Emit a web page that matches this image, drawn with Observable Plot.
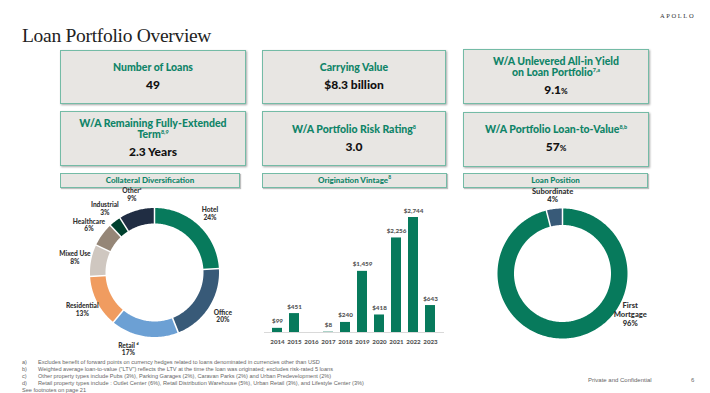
<!DOCTYPE html>
<html><head><meta charset="utf-8">
<script src="https://cdn.jsdelivr.net/npm/d3@7"></script>
<script src="https://cdn.jsdelivr.net/npm/@observablehq/plot@0.6"></script>
<style>
body{margin:0;width:710px;height:393px;position:relative;background:#fff;overflow:hidden;font-family:Lato,"Open Sans",sans-serif;}
.abs{position:absolute;}
.kpi{position:absolute;background:#e8e6e3;border:1.5px solid #74bba6;box-sizing:border-box;box-shadow:1px 1px 2px rgba(0,0,0,.35);display:flex;flex-direction:column;justify-content:center;align-items:center;text-align:center;}
.kt{color:#0f8468;font-weight:900;font-size:10.5px;line-height:11px;}
.kt sup{font-size:5.5px;vertical-align:super;line-height:0;}
.kv{color:#111;font-weight:900;font-size:12px;line-height:14px;margin-top:5px;}
.kv small{font-size:8px;}
.sec{position:absolute;top:173px;height:15px;background:#e8e6e3;border:1px solid #74bba6;box-sizing:border-box;box-shadow:1px 1px 1px rgba(0,0,0,.25);color:#0f8468;font-weight:900;font-size:8px;line-height:13px;text-align:center;}
.sec sup{font-size:5px;vertical-align:super;line-height:0;}
.fn{position:absolute;left:22px;font-family:"Liberation Sans",sans-serif;font-size:5.6px;color:#666;line-height:7px;white-space:nowrap;}
.fn span{display:inline-block;width:16px;}
svg.plot{background:transparent;}
</style></head>
<body>
<div class="abs" style="left:660px;top:12px;font-family:'Liberation Serif',serif;font-size:6.5px;letter-spacing:1.6px;color:#333;">APOLLO</div>
<div class="abs" style="left:22px;top:25px;font-family:'Liberation Serif',serif;font-size:19.5px;color:#222;letter-spacing:-0.3px;">Loan Portfolio Overview</div>

<div class="kpi" style="left:60px;top:50px;width:186px;height:54px;"><div class="kt">Number of Loans</div><div class="kv">49</div></div>
<div class="kpi" style="left:262px;top:50px;width:184px;height:54px;"><div class="kt">Carrying Value</div><div class="kv">$8.3 billion</div></div>
<div class="kpi" style="left:463px;top:49px;width:186px;height:55px;"><div class="kt">W/A Unlevered All-in Yield<br>on Loan Portfolio<sup>7,a</sup></div><div class="kv">9.1<small>%</small></div></div>
<div class="kpi" style="left:60px;top:111px;width:186px;height:55px;"><div class="kt">W/A Remaining Fully-Extended<br>Term<sup>8,9</sup></div><div class="kv">2.3 Years</div></div>
<div class="kpi" style="left:262px;top:111px;width:184px;height:55px;"><div class="kt">W/A Portfolio Risk Rating<sup>8</sup></div><div class="kv">3.0</div></div>
<div class="kpi" style="left:463px;top:112px;width:186px;height:55px;"><div class="kt">W/A Portfolio Loan-to-Value<sup>8,b</sup></div><div class="kv">57<small>%</small></div></div>

<div class="sec" style="left:60px;width:180px;">Collateral Diversification</div>
<div class="sec" style="left:262px;width:185px;">Origination Vintage<sup>8</sup></div>
<div class="sec" style="left:463px;width:185px;">Loan Position</div>

<div id="donut1" class="abs" style="left:53.5px;top:177px;"></div>
<div id="bars" class="abs" style="left:258px;top:195px;"></div>
<div id="donut2" class="abs" style="left:462px;top:178px;"></div>

<div class="fn" style="top:359px;"><span>a)</span>Excludes benefit of forward points on currency hedges related to loans denominated in currencies other than USD</div>
<div class="fn" style="top:366px;"><span>b)</span>Weighted average loan-to-value ("LTV") reflects the LTV at the time the loan was originated; excludes risk-rated 5 loans</div>
<div class="fn" style="top:373px;"><span>c)</span>Other property types include Pubs (3%), Parking Garages (2%), Caravan Parks (2%) and Urban Predevelopment (2%)</div>
<div class="fn" style="top:380px;"><span>d)</span>Retail property types include : Outlet Center (6%), Retail Distribution Warehouse (5%), Urban Retail (3%), and Lifestyle Center (3%)</div>
<div class="fn" style="top:387px;">See footnotes on page 21</div>
<div class="abs" style="left:588px;top:377px;font-family:'Liberation Sans',sans-serif;font-size:6px;color:#666;">Private and Confidential</div>
<div class="abs" style="left:691px;top:377px;font-family:'Liberation Sans',sans-serif;font-size:6px;color:#666;">6</div>

<script>
// ---- data ----
const collateralCategories = ["Hotel","Office","Retail","Residential","Mixed Use","Healthcare","Industrial","Other"];
const collateralLabels = ["Hotel","Office","Retail ᵈ","Residential","Mixed Use","Healthcare","Industrial","Otherᶜ"];
const collateralShares = [24,20,17,13,8,6,3,9];
const collateralColors = ["#077a5c","#385a78","#6ca0d4","#f09c60","#cfc7c0","#958677","#00402e","#202d43"];

const vintageYears = ["2014","2015","2016","2017","2018","2019","2020","2021","2022","2023"];
const vintageValues = [99,451,null,8,240,1459,418,2256,2744,643];

const positionCategories = ["First Mortgage","Subordinate"];
const positionLabels = ["First\nMortgage","Subordinate"];
const positionShares = [96,4];
const positionColors = ["#077a5c","#385a78"];

const FONT = "Lato, 'Open Sans', sans-serif";

// ---- donut helper ----
function donut({cats, labels, shares, colors, rIn, rOut, width, height, fontSize, labelR, labelFrac = {}}) {
  const total = d3.sum(shares);
  let acc = 0;
  const slices = cats.map((c, i) => {
    const a0 = acc / total * 2 * Math.PI; acc += shares[i];
    const a1 = acc / total * 2 * Math.PI;
    return {cat: c, label: labels[i], share: shares[i], a0, a1};
  });
  const rMid = (rIn + rOut) / 2;
  const pts = slices.flatMap(s => {
    const n = Math.max(2, Math.ceil((s.a1 - s.a0) / (Math.PI / 180)));
    return d3.range(n + 1).map(i => {
      const a = s.a0 + (s.a1 - s.a0) * i / n;
      return {cat: s.cat, x: rMid * Math.sin(a), y: -rMid * Math.cos(a)};
    });
  });
  const seps = slices.map(s => ({
    x1: (rIn - 1) * Math.sin(s.a0), y1: -(rIn - 1) * Math.cos(s.a0),
    x2: (rOut + 1) * Math.sin(s.a0), y2: -(rOut + 1) * Math.cos(s.a0)
  }));
  const labs = slices.map(s => {
    const f = labelFrac[s.cat] ?? 0.5;
    const a = s.a0 + (s.a1 - s.a0) * f;
    return {text: `${s.label}\n${s.share}%`, x: labelR * Math.sin(a), y: -labelR * Math.cos(a)};
  });
  return Plot.plot({
    width, height, margin: 0,
    style: {fontFamily: FONT, background: "transparent"},
    x: {domain: [-width / 2, width / 2], range: [0, width], axis: null},
    y: {domain: [-height / 2, height / 2], range: [0, height], axis: null},
    color: {domain: cats, range: colors},
    marks: [
      Plot.line(pts, {x: "x", y: "y", z: "cat", stroke: "cat", strokeWidth: rOut - rIn, strokeLinecap: "butt", strokeLinejoin: "round"}),
      Plot.link(seps, {x1: "x1", y1: "y1", x2: "x2", y2: "y2", stroke: "white", strokeWidth: 1.5}),
      Plot.text(labs, {x: "x", y: "y", text: "text", fontSize, fontWeight: 900, fill: "#333", lineHeight: 1.15})
    ]
  });
}

document.getElementById("donut1").append(donut({
  cats: collateralCategories, labels: collateralLabels, shares: collateralShares, colors: collateralColors,
  rIn: 49, rOut: 64.5, width: 200, height: 190, fontSize: 6.6, labelR: 81,
  labelFrac: {"Retail": 0.66}
}));

document.getElementById("donut2").append(donut({
  cats: positionCategories, labels: positionLabels, shares: positionShares, colors: positionColors,
  rIn: 48.5, rOut: 65, width: 200, height: 190, fontSize: 7.6, labelR: 79,
  labelFrac: {"First Mortgage": 0.35}
}));

// ---- bar chart ----
const vintage = vintageYears.map((y, i) => ({year: y, value: vintageValues[i]}));
document.getElementById("bars").append(Plot.plot({
  width: 192, height: 160, marginLeft: 6, marginRight: 6, marginTop: 22, marginBottom: 23,
  style: {fontFamily: FONT, fontWeight: 900, background: "transparent"},
  x: {domain: vintageYears, padding: 0.39, axis: null},
  y: {domain: [0, d3.max(vintageValues)], axis: null},
  marks: [
    Plot.barY(vintage.filter(d => d.value != null), {x: "year", y: "value", fill: "#077a5c"}),
    Plot.ruleY([0], {stroke: "#d9d9d9", strokeWidth: 1.2}),
    Plot.text(vintage.filter(d => d.value != null), {x: "year", y: "value", text: d => "$" + d3.format(",")(d.value), dy: -7, fill: "#555", fontSize: 6.3, fontWeight: 900}),
    Plot.axisX({tickSize: 0, tickPadding: 7.5, fontSize: 6.2, fontWeight: 900, color: "#555", label: null})
  ]
}));
</script>
</body></html>
